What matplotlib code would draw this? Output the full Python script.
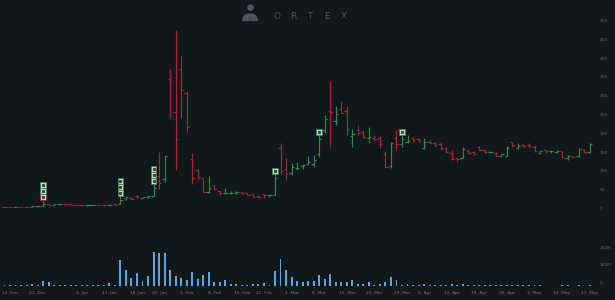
import numpy as np
import pandas as pd
import matplotlib
matplotlib.use("Agg")
import matplotlib.pyplot as plt
import matplotlib.transforms as mtrans
from matplotlib.patches import Rectangle, Circle, Wedge

# trading days shown (Dec 11 2020 .. May 17 2021, US market holidays removed)
holidays = ["2020-12-25", "2021-01-01", "2021-01-18", "2021-02-15", "2021-04-02"]
days = pd.bdate_range("2020-12-11", "2021-05-17")
days = days[~days.isin(pd.to_datetime(holidays))]

opens = [13.5, 13.6, 12.8, 13.9, 13.7, 13.6, 15.0, 15.8, 20.0, 19.6, 20.4, 21.0, 20.3, 19.3,
         19.0, 17.4, 17.3, 18.5, 18.2, 19.4, 20.0, 20.4, 38.1, 38.5, 41.6, 37.4, 39.2, 42.6,
         96.7, 88.6, 354.8, 265.0, 379.7, 316.6, 140.8, 112.0, 91.2, 54.0, 72.4, 56.6, 50.8,
         50.0, 50.8, 52.7, 49.8, 48.5, 41.3, 46.7, 44.7, 44.7, 169.6, 115.0, 104.5, 116.9,
         122.5, 128.2, 128.2, 154.9, 217.7, 269.4, 241.6, 275.0, 268.0, 203.2, 217.8, 214.0,
         195.7, 197.5, 197.5, 155.0, 123.5, 197.0, 180.0, 187.5, 197.5, 193.5, 171.0, 186.0,
         183.0, 182.0, 169.0, 156.0, 143.0, 143.0, 163.0, 160.0, 172.0, 165.0, 159.0, 158.0,
         150.0, 150.0, 185.0, 170.0, 178.0, 179.0, 174.0, 157.0, 164.0, 161.0, 160.0, 161.0,
         143.0, 149.0, 150.0, 166.0, 160.0]
highs = [14.0, 14.3, 14.0, 13.9, 13.9, 16.0, 15.6, 20.4, 20.8, 20.3, 21.5, 21.4, 20.7, 19.5,
         19.1, 18.1, 18.9, 19.5, 18.3, 20.7, 20.4, 38.7, 43.1, 40.8, 45.5, 41.2, 44.8, 76.8,
         159.2, 150.0, 380.0, 483.0, 414.0, 322.0, 158.0, 113.4, 91.5, 95.0, 72.7, 57.0, 62.8,
         55.3, 55.2, 53.5, 50.0, 48.9, 43.9, 46.9, 46.2, 91.7, 184.7, 142.9, 130.0, 134.0,
         127.8, 147.9, 151.5, 210.9, 259.0, 348.5, 281.5, 295.5, 283.0, 220.7, 231.5, 218.9,
         227.0, 206.0, 201.8, 161.7, 187.5, 218.9, 200.0, 206.0, 199.0, 196.0, 196.0, 191.0,
         185.0, 185.0, 171.0, 165.0, 144.0, 174.0, 167.0, 161.0, 176.0, 168.0, 161.0, 160.0,
         155.0, 176.0, 187.0, 183.0, 182.0, 183.0, 178.0, 165.0, 165.0, 166.0, 166.0, 162.0,
         152.0, 150.0, 171.0, 167.0, 183.0]
lows = [12.9, 12.6, 12.6, 13.1, 13.4, 13.4, 14.5, 15.6, 18.8, 19.2, 19.9, 20.0, 19.2, 18.6,
        17.2, 17.2, 17.3, 18.0, 17.1, 19.0, 19.3, 20.0, 33.1, 34.0, 36.6, 36.1, 37.0, 42.3,
        61.1, 80.2, 249.0, 112.3, 250.0, 212.0, 74.2, 85.3, 53.3, 51.1, 58.0, 46.5, 46.6,
        48.2, 48.1, 49.0, 45.0, 40.7, 38.5, 38.5, 40.0, 44.7, 101.0, 86.0, 99.7, 112.2,
        113.1, 125.0, 120.6, 146.1, 210.0, 172.0, 232.6, 262.3, 206.0, 172.4, 204.0, 195.7,
        182.7, 190.0, 171.0, 118.6, 117.0, 165.0, 173.7, 184.0, 187.0, 185.0, 167.0, 184.0,
        176.0, 165.0, 156.0, 138.0, 134.0, 143.0, 156.0, 152.0, 163.0, 158.0, 158.0, 147.0,
        147.0, 149.0, 174.0, 167.0, 174.0, 174.0, 160.0, 155.0, 158.0, 157.0, 158.0, 143.0,
        137.0, 145.0, 147.0, 158.0, 158.0]
closes = [13.3, 12.7, 13.9, 13.6, 13.5, 15.6, 15.5, 20.2, 19.4, 20.2, 21.0, 20.3, 19.4, 18.8,
          17.3, 17.4, 18.4, 18.1, 17.7, 19.9, 19.9, 31.4, 39.9, 35.5, 39.4, 39.1, 43.0, 65.0,
          76.8, 148.0, 347.5, 193.6, 325.0, 225.0, 90.0, 92.4, 53.5, 63.8, 60.0, 50.3, 51.2,
          51.1, 52.4, 49.5, 45.9, 40.7, 40.6, 46.0, 45.0, 91.7, 108.7, 101.7, 120.4, 118.2,
          124.2, 132.4, 137.7, 194.5, 246.9, 265.0, 260.0, 264.5, 220.1, 208.2, 209.8, 200.3,
          200.3, 194.5, 181.8, 120.3, 183.8, 181.0, 194.5, 189.8, 190.8, 191.5, 187.0, 184.5,
          177.0, 170.3, 158.4, 141.1, 141.0, 166.5, 156.4, 154.7, 164.0, 158.5, 160.0, 150.0,
          154.0, 170.0, 177.8, 176.2, 175.0, 174.5, 161.0, 162.0, 161.0, 162.0, 161.5, 145.0,
          150.0, 146.0, 168.0, 160.0, 181.0]
volumes_m = [5, 6, 5, 4, 5, 11, 7, 29, 21, 6, 7, 6, 5, 6, 6, 5, 5, 5, 5, 15, 7, 149, 91, 44,
             72, 29, 57, 197, 187, 187, 91, 57, 48, 34, 78, 40, 63, 80, 21, 21, 34, 11, 11, 6,
             6, 14, 12, 15, 7, 86, 154, 91, 50, 30, 23, 29, 29, 63, 38, 69, 25, 21, 21, 32,
             11, 9, 21, 7, 11, 21, 50, 34, 8, 11, 6, 5, 10, 5, 6, 4, 5, 10, 5, 13, 5, 4, 4, 3,
             3, 4, 3, 4, 5, 3, 3, 3, 3, 3, 2, 2, 2, 3, 3, 2, 4, 2, 5]

tick_dates = ["2020-12-14", "2020-12-21", "2021-01-04", "2021-01-11", "2021-01-18",
              "2021-01-25", "2021-02-01", "2021-02-08", "2021-02-15", "2021-02-22",
              "2021-03-01", "2021-03-08", "2021-03-15", "2021-03-22", "2021-03-29",
              "2021-04-05", "2021-04-12", "2021-04-19", "2021-04-26", "2021-05-03",
              "2021-05-10", "2021-05-17"]
tick_labels = ["14. Dec", "21. Dec", "4. Jan", "11. Jan", "18. Jan", "25. Jan", "1. Feb",
               "8. Feb", "15. Feb", "22. Feb", "1. Mar", "8. Mar", "15. Mar", "22. Mar",
               "29. Mar", "5. Apr", "12. Apr", "19. Apr", "26. Apr", "3. May", "10. May",
               "17. May"]

price_ticks = [0, 50, 100, 150, 200, 250, 300, 350, 400, 450, 500]
vol_ticks = [0, 100, 200]
vol_tick_labels = ["0", "100M", "200M"]

# news flags: date and how many stacked markers
flag_dates = ["2020-12-22", "2021-01-13", "2021-01-22", "2021-02-24", "2021-03-08", "2021-03-29"]
flag_counts = [3, 3, 3, 1, 1, 1]

BG = "#0f181b"
UP = "#2f8a4c"
DOWN = "#a3283a"
VOL = "#5aa6e2"
LABEL = "#737c80"

W, H = 615, 300
fig = plt.figure(figsize=(W / 100, H / 100), dpi=100, facecolor=BG)


def frame(left, top, right, bottom):
    return [left / W, 1 - bottom / H, (right - left) / W, (bottom - top) / H]


ax = fig.add_axes(frame(0, 24, 598, 212))
axv = fig.add_axes(frame(0, 251, 598, 286), sharex=ax)
for a in (ax, axv):
    a.set_facecolor(BG)
    for s in a.spines.values():
        s.set_visible(False)
    a.tick_params(length=0, labelleft=False, labelbottom=False)
    a.set_yticks([])

x = np.arange(len(days))
o = np.array(opens)
c = np.array(closes)
colors = np.where(c >= o, UP, DOWN)

ax.vlines(x, lows, highs, colors=colors, lw=0.85)
ax.hlines(o, x - 0.42, x, colors=colors, lw=0.85)
ax.hlines(c, x, x + 0.42, colors=colors, lw=0.85)
ax.set_xlim(-0.81, 107.5)
ax.set_ylim(0, 500)

axv.bar(x, np.array(volumes_m) * 1e6, width=0.35, color=VOL)
axv.set_ylim(0, 200e6)

# right side labels, sitting a little above their grid value
tr = mtrans.offset_copy(ax.get_yaxis_transform(), fig=fig, x=2, y=3, units="dots")
for v in price_ticks:
    ax.text(1.0, v, str(v), transform=tr, color="#5f686c", fontsize=3.2,
            ha="left", va="center")
trv = mtrans.offset_copy(axv.get_yaxis_transform(), fig=fig, x=2, y=3, units="dots")
for v, lab in zip(vol_ticks, vol_tick_labels):
    axv.text(1.0, v * 1e6, lab, transform=trv, color="#5f686c", fontsize=3.2,
             ha="left", va="center")

tick_pos = days.searchsorted(pd.to_datetime(tick_dates))
trx = mtrans.offset_copy(axv.get_xaxis_transform(), fig=fig, y=-7, units="dots")
for p, lab in zip(tick_pos, tick_labels):
    axv.text(p, 0, lab, transform=trx, color=LABEL, fontsize=3.2, ha="center", va="center")

# flags
px = 500 / 188.0  # price units per pixel
for d, n in zip(flag_dates, flag_counts):
    k = days.get_loc(pd.Timestamp(d))
    base = closes[k] + 4 * px
    ax.vlines(k, closes[k], base, colors=UP, lw=0.7)
    for j in range(n):
        y0 = base + j * 6 * px
        edge = DOWN if (n == 3 and j == 0 and k == 7) else UP
        ax.add_patch(Rectangle((k - 0.5, y0), 1.0, 6 * px, facecolor="#d3d9d6",
                               edgecolor=edge, lw=0.6, zorder=5))
        ax.plot(k, y0 + 3 * px, marker="s", ms=1.3, color="#3c4448", zorder=6)

# ORTEX logo, drawn in pixel units (inches = px / 100, y from top)
logo = "#4d565a"
pix = fig.dpi_scale_trans


def P(xp, yp):
    return (xp / 100, (H - yp) / 100)


fig.patches.append(Circle(P(250.5, 7.5), 0.026, transform=pix, color=logo))
fig.patches.append(Wedge(P(249.2, 20.5), 0.065, 90, 180, transform=pix, color=logo))
fig.patches.append(Wedge(P(250.8, 20.5), 0.065, 0, 90, transform=pix, color=logo))
for j, ch in enumerate("ORTEX"):
    fig.text((276.7 + j * 16.65) / W, 1 - 16.7 / H, ch, color=logo, fontsize=6.5,
             ha="center", va="center")

fig.savefig("out.png", dpi=100, facecolor=BG)
